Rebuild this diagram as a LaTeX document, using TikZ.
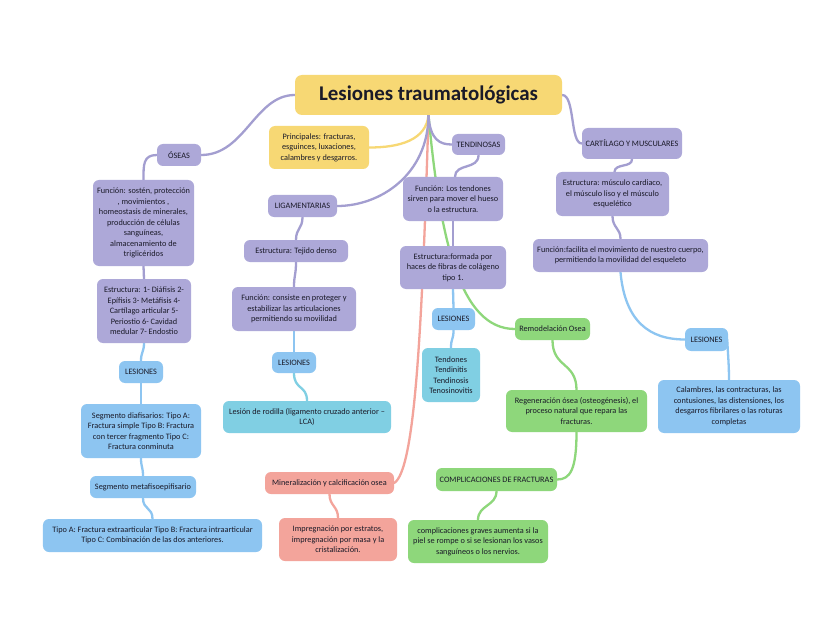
\documentclass[tikz,border=0pt]{standalone}
\usepackage{fontspec}
\setmainfont{Carlito}
\usetikzlibrary{backgrounds}
\definecolor{purp}{HTML}{ADA8D8}
\definecolor{purpl}{HTML}{A39ED0}
\definecolor{yel}{HTML}{F7D874}
\definecolor{blu}{HTML}{8DC5F1}
\definecolor{tealc}{HTML}{80CFE3}
\definecolor{salm}{HTML}{F3A49B}
\definecolor{grn}{HTML}{8ED77B}
\definecolor{txt}{HTML}{1A1A28}
\tikzset{
  box/.style={rounded corners=6bp, inner sep=1bp, align=center, text=txt,
    font=\fontsize{8.3}{10.6}\selectfont},
  boxP/.style={box, fill=purp},
  boxY/.style={box, fill=yel},
  boxB/.style={box, fill=blu},
  boxT/.style={box, fill=tealc},
  boxS/.style={box, fill=salm},
  boxG/.style={box, fill=grn},
  sz/.style 2 args={minimum width=#1bp, minimum height=#2bp},
  ln/.style={line width=2.3bp, line cap=round},
  lnP/.style={ln, draw=purpl},
  lnY/.style={ln, draw=yel},
  lnB/.style={ln, draw=blu},
  lnT/.style={ln, draw=tealc},
  lnS/.style={ln, draw=salm},
  lnG/.style={ln, draw=grn}
}
\begin{document}
\begin{tikzpicture}[x=1bp,y=-1bp]
\useasboundingbox (0,0) rectangle (829,640);

% nodes
\node[boxY, sz={267}{40}, rounded corners=7bp, font=\fontsize{21}{25}\selectfont\bfseries] (title) at (428.5,95) {Lesiones traumatológicas};
\node[boxY, sz={100}{43}] (prin) at (319,147.5) {Principales: fracturas,\\esguinces, luxaciones,\\calambres y desgarros.};
\node[boxP, sz={44}{22}] (oseas) at (179,155) {ÓSEAS};
\node[boxP, sz={53}{21}] (tend) at (478.5,144.5) {TENDINOSAS};
\node[boxP, sz={100}{31}] (cart) at (632,143.5) {CARTÍLAGO Y MUSCULARES};
\node[boxP, sz={69}{22}] (liga) at (302.5,206) {LIGAMENTARIAS};
\node[boxP, sz={101}{86}] (fos) at (143.5,223) {Función: sostén, protección\\, movimientos ,\\homeostasis de minerales,\\producción de células\\sanguíneas,\\almacenamiento de\\triglicéridos};
\node[boxP, sz={100}{44}] (ften) at (453,199) {Función: Los tendones\\sirven para mover el hueso\\o la estructura.};
\node[boxP, sz={113}{44}] (emus) at (612.5,194) {Estructura: músculo cardiaco,\\el músculo liso y el músculo\\esquelético};
\node[boxP, sz={104}{22}] (etej) at (296,251) {Estructura: Tejido denso};
\node[boxP, sz={106}{43}] (efor) at (453,267.5) {Estructura:formada por\\haces de fibras de colágeno\\tipo 1.};
\node[boxP, sz={175}{33}] (ffac) at (620.5,255.5) {Función:facilita el movimiento de nuestro cuerpo,\\permitiendo la movilidad del esqueleto};
\node[boxP, sz={94}{64}] (eos) at (144,311) {Estructura: 1- Diáfisis 2-\\Epífisis 3- Metáfisis 4-\\Cartílago articular 5-\\Periostio 6- Cavidad\\medular 7- Endostio};
\node[boxP, sz={124}{44}] (flig) at (294,309) {Función: consiste en proteger y\\estabilizar las articulaciones\\permitiendo su movilidad};
\node[boxB, sz={43}{22}] (lten) at (453.5,319) {LESIONES};
\node[boxG, sz={75}{22}] (remo) at (552.5,329) {Remodelación Osea};
\node[boxB, sz={43}{23}] (lmus) at (706.5,339.5) {LESIONES};
\node[boxB, sz={44}{22}] (los) at (141,372) {LESIONES};
\node[boxB, sz={44}{21}] (llig) at (294,362.5) {LESIONES};
\node[boxT, sz={58}{54}] (tlist) at (451,375) {Tendones\\Tendinitis\\Tendinosis\\Tenosinovitis};
\node[boxT, sz={168}{32}] (rod) at (307,417) {Lesión de rodilla (ligamento cruzado anterior –\\LCA)};
\node[boxG, sz={141}{42}] (rege) at (576.5,411) {Regeneración ósea (osteogénesis), el\\proceso natural que repara las\\fracturas.};
\node[boxB, sz={142}{53}] (calam) at (729,406.5) {Calambres, las contracturas, las\\contusiones, las distensiones, los\\desgarros fibrilares o las roturas\\completas};
\node[boxB, sz={120}{54}] (sdia) at (141,431) {Segmento diafisarios: Tipo A:\\Fractura simple Tipo B: Fractura\\con tercer fragmento Tipo C:\\Fractura conminuta};
\node[boxS, sz={129}{22}] (mine) at (329.5,483) {Mineralización y calcificación osea};
\node[boxB, sz={106}{22}] (smet) at (143,487) {Segmento metafisoepifisario};
\node[boxG, sz={121}{23}] (comp) at (496.5,479.5) {COMPLICACIONES DE FRACTURAS};
\node[boxB, sz={219}{33}] (tipo) at (152.5,535.5) {Tipo A: Fractura extraarticular Tipo B: Fractura intraarticular\\Tipo C: Combinación de las dos anteriores.};
\node[boxS, sz={118}{43}] (impr) at (338,539.5) {Impregnación por estratos,\\impregnación por masa y la\\cristalización.};
\node[boxG, sz={140}{43}] (cgra) at (478,541.5) {complicaciones graves aumenta si la\\piel se rompe o si se lesionan los vasos\\sanguíneos o los nervios.};

% connectors
\begin{scope}[on background layer]
\fill[white] (0,0) rectangle (829,640);
\draw[lnP] (title.west) .. controls (255,95) and (245,155) .. (oseas.east);
\draw[lnY] (title.south) .. controls (426,140) and (400,147.5) .. (prin.east);
\draw[lnS] (title.south) .. controls (422,330) and (415,470) .. (mine.east);
\draw[lnG] (title.south) .. controls (440,240) and (460,329) .. (remo.west);
\draw[lnP] (title.south) .. controls (428,175) and (380,206) .. (liga.east);
\draw[lnP] (title.south) .. controls (430,140) and (440,144.5) .. (tend.west);
\draw[lnP] (title.east) .. controls (575,95) and (570,143.5) .. (cart.west);

\draw[lnP] (oseas.west) .. controls (143,155) and (143.5,165) .. (fos.north);
\draw[lnP] (fos.south) -- (eos.north);
\draw[lnB] (eos.south) .. controls (144,352) and (141,352) .. (los.north);
\draw[lnB] (los.south) -- (sdia.north);
\draw[lnB] (sdia.south) .. controls (141,467) and (143,467) .. (smet.north);
\draw[lnB] (smet.south) .. controls (143,510) and (152.5,507) .. (tipo.north);

\draw[lnP] (liga.south) .. controls (302.5,229) and (296,228) .. (etej.north);
\draw[lnP] (etej.south) .. controls (296,275) and (294,275) .. (flig.north);
\draw[lnB] (flig.south) -- (llig.north);
\draw[lnT] (llig.south) .. controls (294,390) and (307,385) .. (rod.north);

\draw[lnP] (tend.south) .. controls (478.5,170) and (455,163) .. ([xshift=2bp]ften.north);
\draw[lnP] (ften.south) -- (efor.north);
\draw[lnB] (efor.south) -- (lten.north);
\draw[lnB] (lten.south) .. controls (453.5,340) and (451,338) .. (tlist.north);

\draw[lnP] (cart.south) .. controls (632,168) and (615,163) .. ([xshift=2bp]emus.north);
\draw[lnP] (emus.south) .. controls (612.5,228) and (620.5,228) .. (ffac.north);
\draw[lnB] (ffac.south) .. controls (625,322) and (650,339.5) .. (lmus.west);
\draw[lnB] ([xshift=-1bp]lmus.east) .. controls (728,355) and (729,365) .. (calam.north);

\draw[lnG] (remo.south) .. controls (552.5,368) and (576.5,362) .. (rege.north);
\draw[lnG] (rege.south) .. controls (576.5,470) and (570,479.5) .. (comp.east);
\draw[lnG] (comp.south) .. controls (496.5,506) and (478,505) .. (cgra.north);
\draw[lnS] (mine.south) .. controls (329.5,506) and (338,506) .. (impr.north);
\end{scope}
\end{tikzpicture}
\end{document}
